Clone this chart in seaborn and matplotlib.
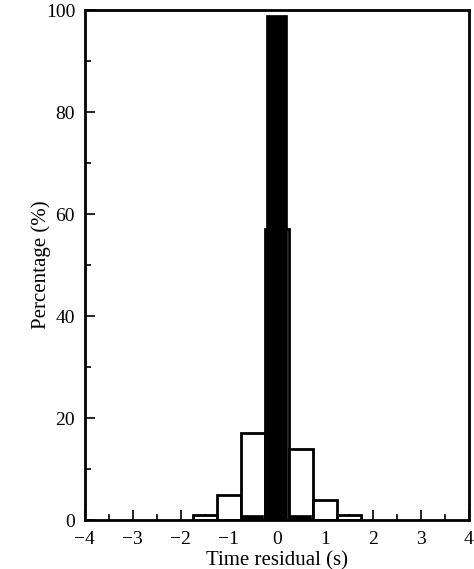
import numpy as np
import matplotlib
matplotlib.use("Agg")
import matplotlib.pyplot as plt
import seaborn as sns
from matplotlib.ticker import MultipleLocator

# histogram data (bin centres in seconds, percentage)
open_centers = [-1.5, -1.0, -0.5, 0.0, 0.5, 1.0, 1.5]
open_pct = [1, 5, 17, 57, 14, 4, 1]
solid_centers = [-0.5, 0.0, 0.5]
solid_pct = [1, 99, 1]

sns.set_style("ticks", {"axes.edgecolor": "black", "xtick.color": "black",
                        "ytick.color": "black", "text.color": "black",
                        "axes.labelcolor": "black"})
plt.rcParams["font.family"] = ["Liberation Serif", "DejaVu Serif"]

fig = plt.figure(figsize=(4.74, 5.69), dpi=100)
ax = fig.add_axes([0.179, 0.086, 0.810, 0.896])

sns.histplot(x=open_centers, weights=open_pct, binwidth=0.5, binrange=(-1.75, 1.75),
             color="white", edgecolor="black", linewidth=2, alpha=1, ax=ax)
sns.histplot(x=solid_centers, weights=solid_pct, binwidth=0.5, binrange=(-0.75, 0.75),
             shrink=0.88, color="black", edgecolor="black", linewidth=0.5, alpha=1, ax=ax)

ax.set_xlim(-4, 4)
ax.set_ylim(0, 100)
ax.xaxis.set_major_locator(MultipleLocator(1))
ax.xaxis.set_minor_locator(MultipleLocator(0.5))
ax.yaxis.set_major_locator(MultipleLocator(20))
ax.yaxis.set_minor_locator(MultipleLocator(10))
ax.set_xticks(range(-4, 5))
ax.set_xticklabels([str(v).replace("-", "\u2212") for v in range(-4, 5)])
ax.tick_params(which="major", direction="in", length=7, width=1.2, labelsize=14)
ax.tick_params(axis="x", which="major", pad=8)
ax.tick_params(axis="y", which="major", pad=7)
ax.tick_params(which="minor", direction="in", length=4, width=1.2)
for s in ax.spines.values():
    s.set_linewidth(2)
    s.set_visible(True)

ax.set_xlabel("Time residual (s)", fontsize=15, labelpad=2)
ax.set_ylabel("Percentage (%)", fontsize=15)
ax.yaxis.set_label_coords(-0.088, 0.5)

fig.savefig("out.png", dpi=100)
